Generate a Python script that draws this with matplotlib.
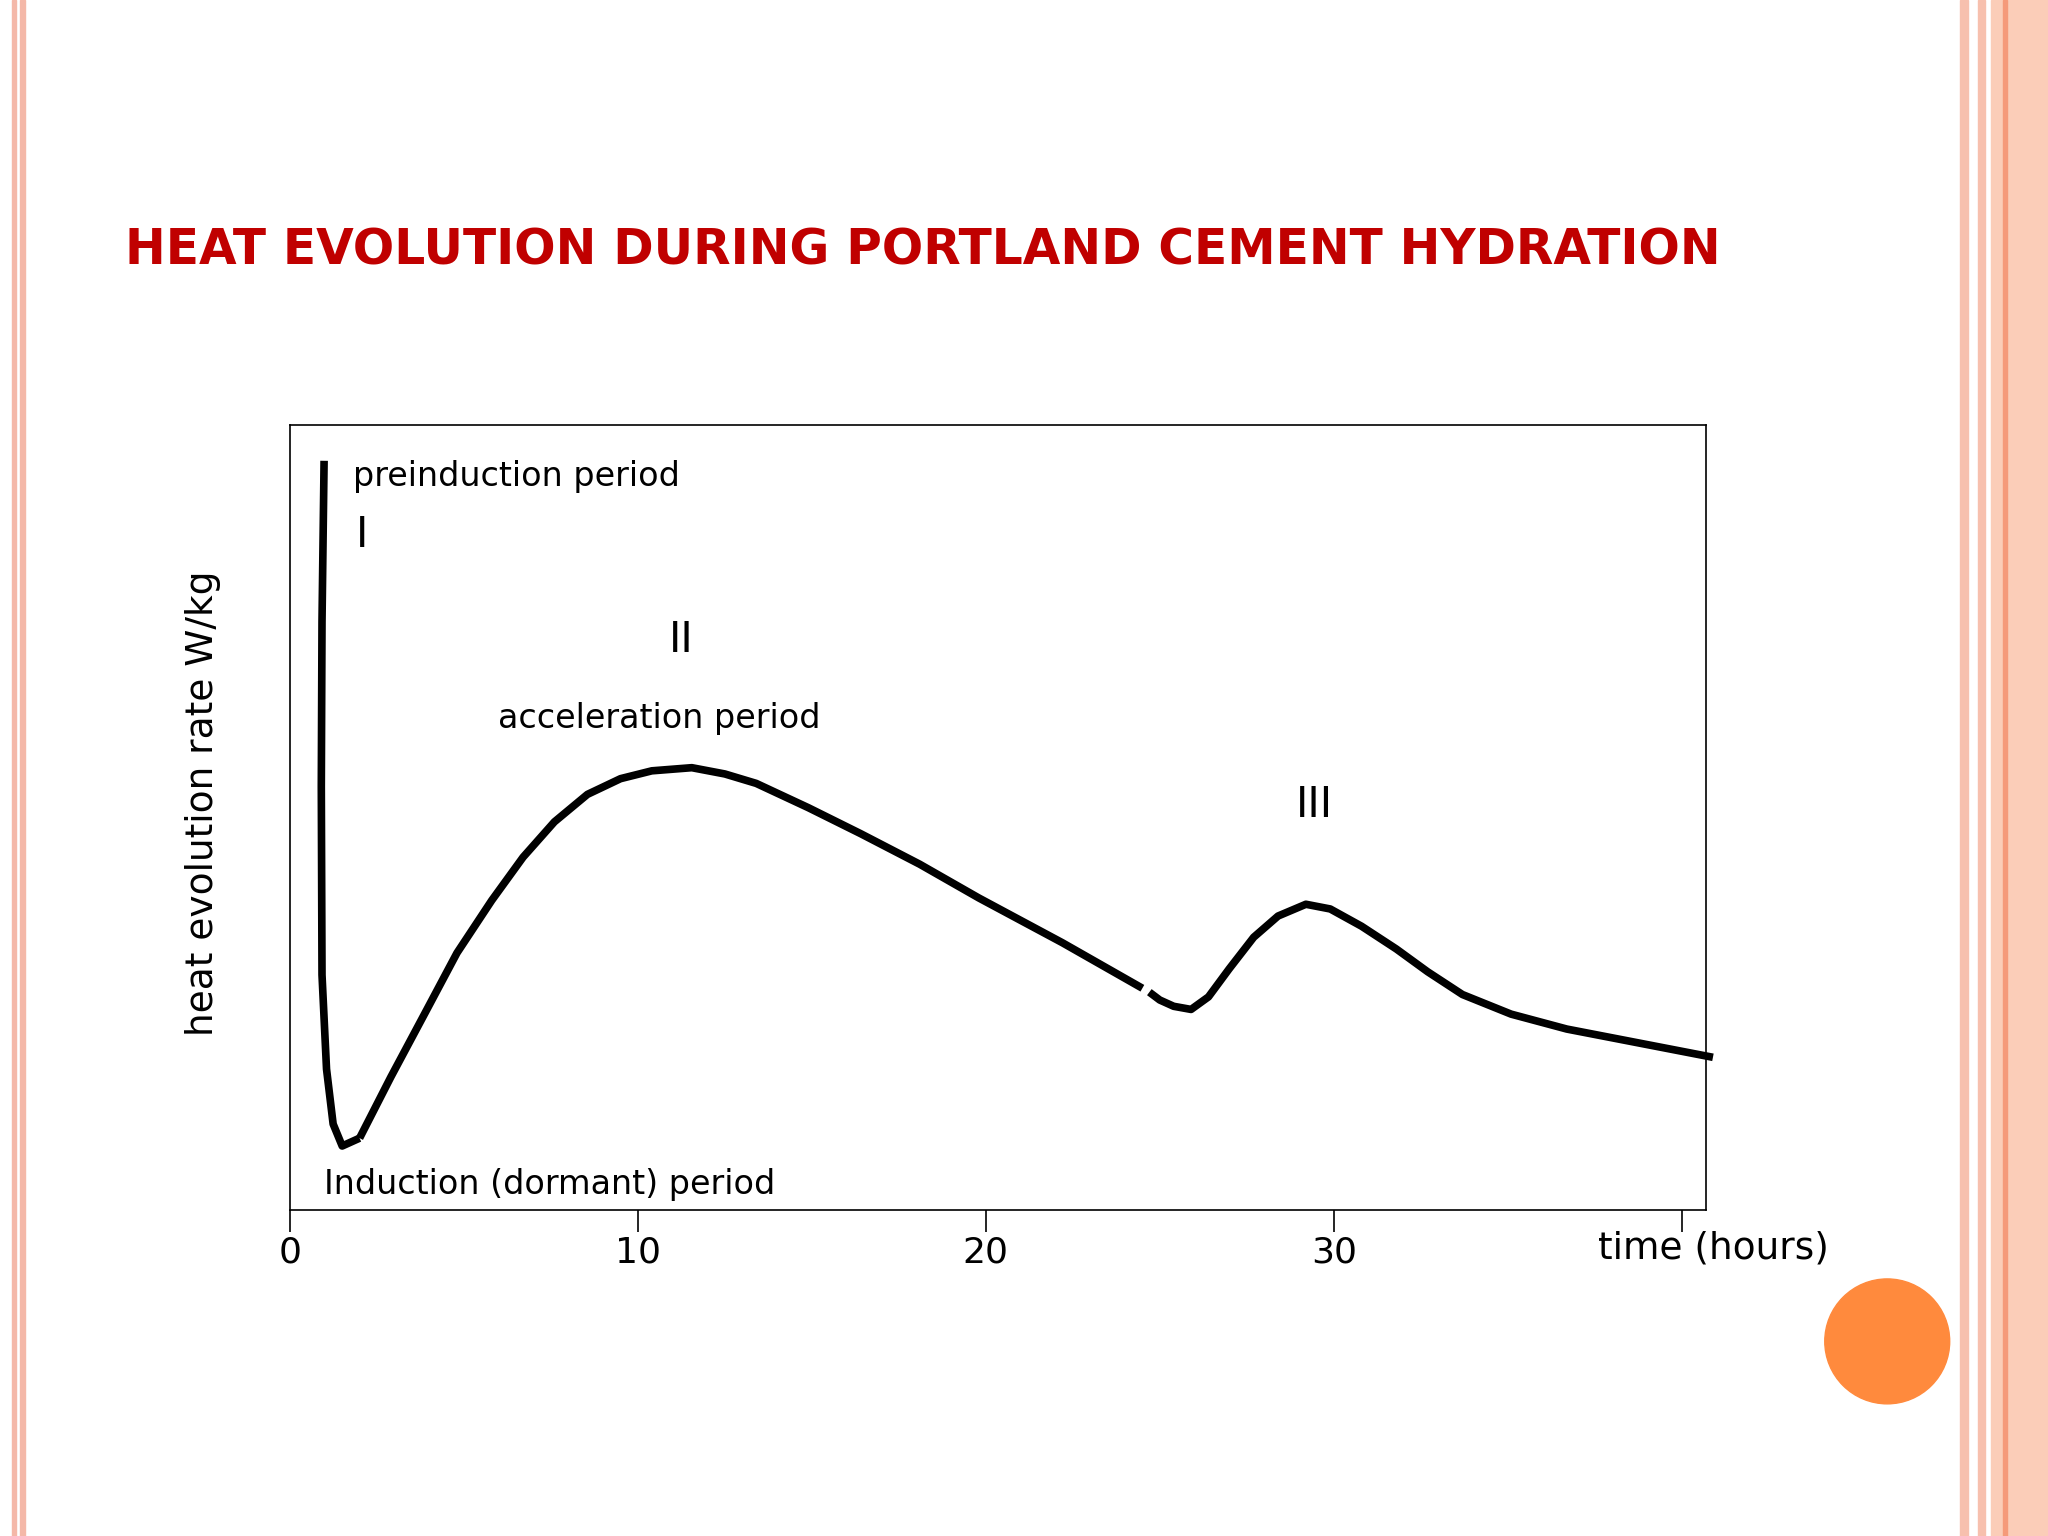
import matplotlib.pyplot as plt
from matplotlib.patches import Circle, Rectangle

# curve (hours, relative heat rate)
t1 = [0.98, 0.92, 0.90, 0.92, 1.05, 1.24, 1.5, 1.8, 2.0]
q1 = [95.5, 75, 54, 30, 18, 11, 8.2, 8.8, 9.2]
t2 = [2.0, 2.9, 3.9, 4.8, 5.8, 6.7, 7.6, 8.55, 9.5, 10.4, 11.55, 12.5, 13.4, 14.9,
      16.4, 18.1, 19.8, 22.2, 24.5]
q2 = [9.2, 17, 25.3, 32.8, 39.5, 45, 49.5, 53, 55, 56, 56.4, 55.6, 54.4, 51.3,
      48, 44.1, 39.8, 34.1, 28.3]
t3 = [24.7, 25.0, 25.4, 25.9, 26.4, 27.0, 27.7, 28.4, 29.2, 29.9, 30.8, 31.8, 32.7,
      33.7, 35.1, 36.7, 38.8, 40.9]
q3 = [27.8, 26.8, 26.0, 25.6, 27.2, 30.8, 34.8, 37.5, 39.0, 38.4, 36.2, 33.3, 30.4,
      27.5, 25.0, 23.1, 21.3, 19.5]
xticks = [0, 10, 20, 30, 40]
xticklabels = ["0", "10", "20", "30", ""]

W, H = 20.48, 15.36
fig = plt.figure(figsize=(W, H), dpi=100)
fig.patch.set_facecolor("white")

# slide decorations
for x0, w, c in [(0.006, 0.002, "#f4b8a8"), (0.010, 0.002, "#f4b8a8"),
                 (0.957, 0.004, "#f7c0ae"), (0.966, 0.003, "#f7c0ae"),
                 (0.972, 0.028, "#fbcdb8"), (0.978, 0.002, "#f59a7a")]:
    fig.patches.append(Rectangle((x0, 0), w, 1, transform=fig.transFigure,
                                 color=c, zorder=0))
fig.patches.append(Circle((0.9215 * W, 0.1267 * H), 0.0305 * W,
                          transform=fig.dpi_scale_trans, color="#ff8a3d", zorder=1))

fig.text(0.061, 0.837, "HEAT EVOLUTION DURING PORTLAND CEMENT HYDRATION",
         color="#c00000", fontsize=35, fontweight="bold", va="center")

ax = fig.add_axes([0.1416, 0.212, 0.6914, 0.511])
lw = 5.5
ax.plot(t1, q1, color="black", lw=lw, solid_capstyle="butt", solid_joinstyle="round")
ax.plot(t2, q2, color="black", lw=lw, solid_capstyle="butt", solid_joinstyle="round")
ax.plot(t3, q3, color="black", lw=lw, solid_capstyle="butt", solid_joinstyle="round",
        clip_on=False)
ax.set_xlim(0, 40.7)
ax.set_ylim(0, 100)
ax.set_yticks([])
ax.set_xticks(xticks)
ax.set_xticklabels(xticklabels)
ax.tick_params(axis="x", direction="out", length=16, width=1.2, labelsize=26, pad=2)
for s in ax.spines.values():
    s.set_linewidth(1.2)

fs = 24
ax.text(1.8, 93.5, "preinduction period", fontsize=fs, va="center")
ax.text(2.06, 86, "I", fontsize=fs + 6, va="center", ha="center")
ax.text(11.25, 72.7, "II", fontsize=fs + 6, va="center", ha="center")
ax.text(10.6, 62.7, "acceleration period", fontsize=fs, va="center", ha="center")
ax.text(29.45, 51.6, "III", fontsize=fs + 6, va="center", ha="center")
ax.text(0.98, 3.3, "Induction (dormant) period", fontsize=fs, va="center")
ax.text(40.9, -4.8, "time (hours)", fontsize=27, va="center", ha="center", clip_on=False)
fig.text(0.099, 0.477, "heat evolution rate W/kg", fontsize=27, rotation=90,
         va="center", ha="center")

fig.savefig("out.png", dpi=100)
